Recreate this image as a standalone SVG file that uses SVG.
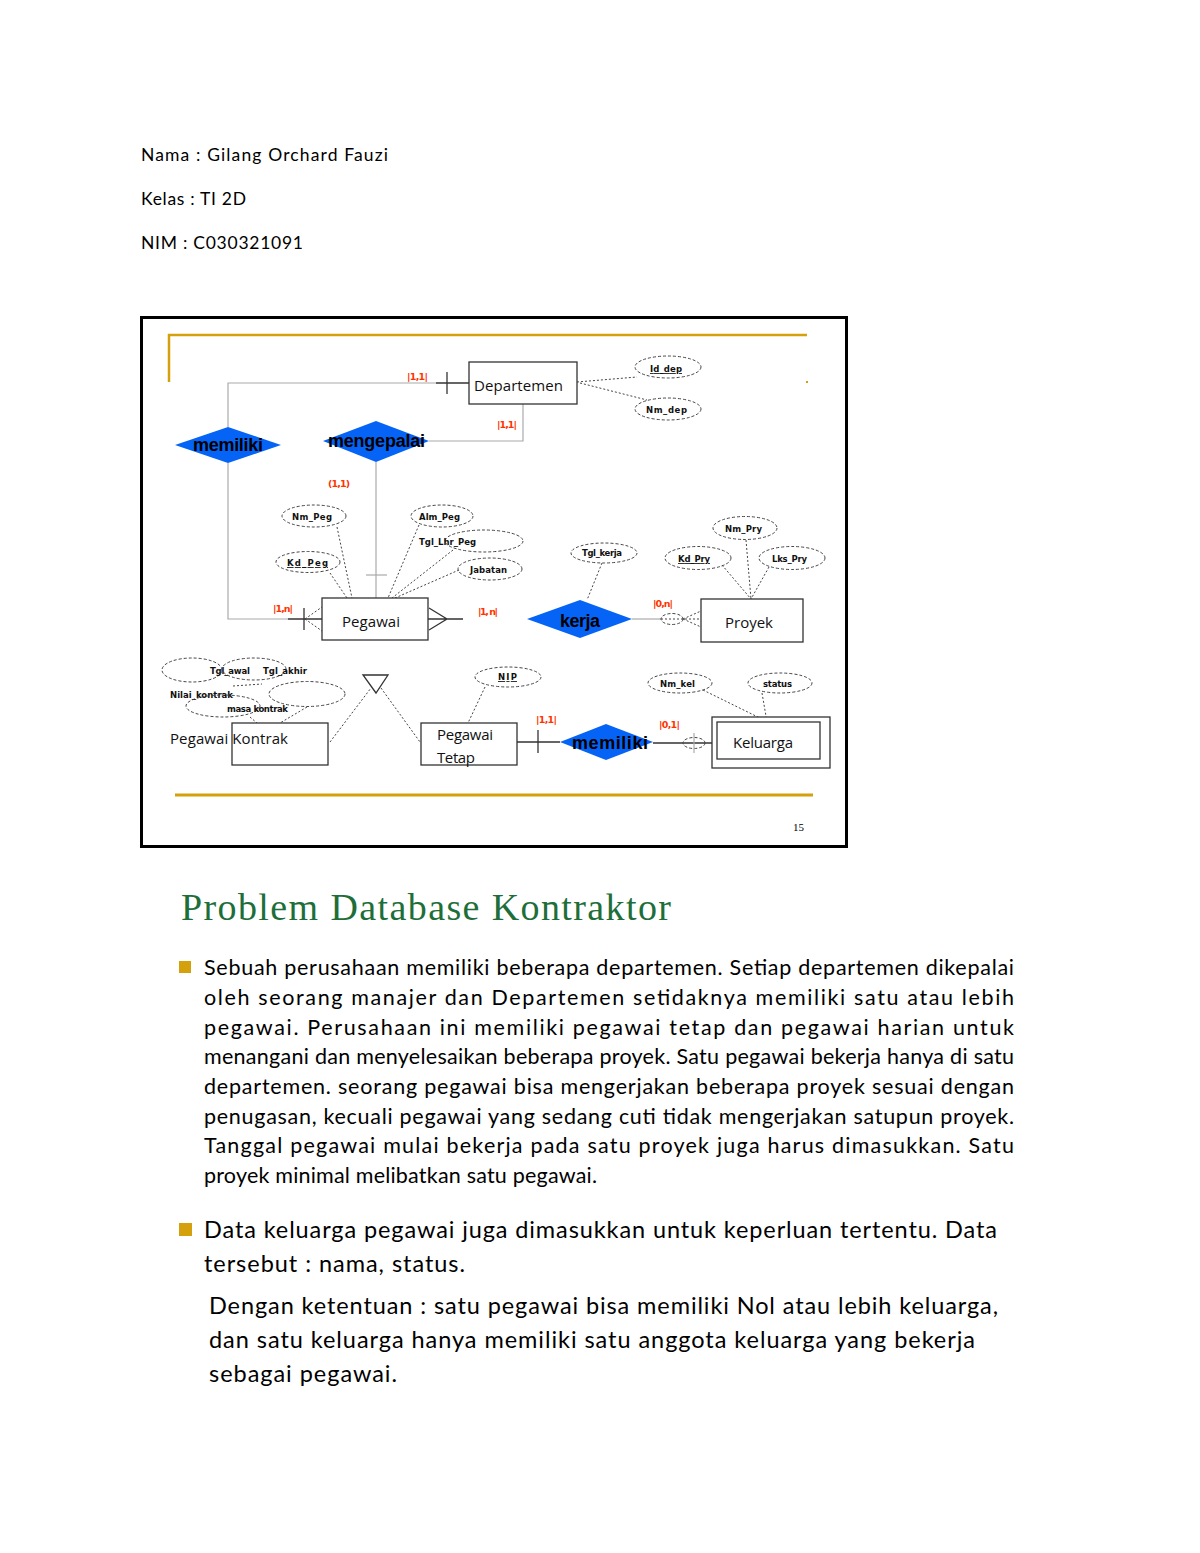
<svg xmlns="http://www.w3.org/2000/svg" width="1200" height="1553" viewBox="0 0 1200 1553">
<style>
.ent{fill:#fff;stroke:#333;stroke-width:1.3}
.rel{fill:#0563F5}
.attr{fill:none;stroke:#444;stroke-width:1;stroke-dasharray:3 2}
.lbl{font-family:"Open Sans","DejaVu Sans",sans-serif;font-size:15px;fill:#111}
.rtxt{font-family:"Liberation Sans",Arial,sans-serif;font-weight:bold;font-size:18px;fill:#000}
.atxt{font-family:"DejaVu Sans",sans-serif;font-size:8.5px;font-weight:bold;fill:#111}
.card{font-family:"DejaVu Sans",sans-serif;font-size:9.5px;font-weight:bold;fill:#FF3300}
.gray{stroke:#aaa;stroke-width:1.2;fill:none}
.dark{stroke:#333;stroke-width:1.3;fill:none}
.dash{stroke:#444;stroke-width:1;stroke-dasharray:2 2;fill:none}
.gold{stroke:#D4A00C;fill:none}
.body{font-family:Lato,"Open Sans",sans-serif;fill:#000}
</style>
<rect width="1200" height="1553" fill="#fff"/>
<g id="header" class="body" font-size="17.5">
<text x="141" y="161" textLength="247">Nama : Gilang Orchard Fauzi</text>
<text x="141" y="205" textLength="105">Kelas : TI 2D</text>
<text x="141" y="249" textLength="162">NIM : C030321091</text>
</g>
<g id="frame">
<rect x="141.5" y="317.5" width="705" height="529" fill="none" stroke="#000" stroke-width="3"/>
<polyline class="gold" stroke-width="2.5" points="169,382 169,335 807,335"/>
<line class="gold" stroke-width="3" x1="175" y1="795" x2="813" y2="795"/>
<rect x="806" y="381" width="2" height="2" fill="#D4A00C"/>
<text x="793" y="831" font-family="Liberation Serif,serif" font-size="11" fill="#000">15</text>
</g>
<g id="connectors">
<polyline class="gray" points="436,383 228,383 228,427"/>
<line class="dark" x1="436" y1="383" x2="469" y2="383"/>
<line class="dark" x1="447" y1="372" x2="447" y2="394"/>
<polyline class="gray" points="523,404 523,441 429,441"/>
<line class="gray" x1="376" y1="462" x2="376" y2="598"/>
<line class="gray" x1="366" y1="575" x2="387" y2="575"/>
<polyline class="gray" points="228,463 228,619 288,619"/>
<line class="dark" x1="288" y1="619" x2="322" y2="619"/>
<line class="dark" x1="304" y1="608" x2="304" y2="630"/>
<path class="dash" d="M305,619 L322,607 M305,619 L322,631"/>
<path class="dark" d="M429,608 L447,619 L429,630 M428,619 L463,619"/>
<line class="gray" stroke="#888" x1="632" y1="619" x2="661" y2="619"/>
<ellipse class="attr" cx="672" cy="619" rx="11" ry="5.5"/>
<path class="dash" d="M683,619 L701,611 M683,619 L701,627 M661,619 L701,619"/>
<path class="dash" d="M577,382 L637,377 M580,383 L647,400"/>
<path class="dash" d="M337,527 L352,598 M330,573 L347,598 M419,525 L388,598 M453,550 L392,598 M459,570 L395,598"/>
<path class="dash" d="M602,563 L587,600"/>
<path class="dash" d="M722,565 L751,599 M746,540 L751,599 M769,567 L751,599"/>
<polygon class="dark" stroke-width="1" points="363,675 388,675 376,693"/>
<path class="dash" stroke="#666" d="M330,742 L371,688 M381,688 L420,742"/>
<path class="dash" d="M485,687 L468,723"/>
<path class="dash" d="M307,707 L280,723 M250,717 L257,723 M233,686 L262,684"/>
<line class="dark" stroke="#111" x1="517" y1="742" x2="560" y2="742"/>
<line class="dark" x1="538" y1="730" x2="538" y2="753"/>
<line class="dark" stroke="#555" x1="653" y1="743" x2="712" y2="743"/>
<ellipse class="attr" fill="#fff" cx="694" cy="743" rx="11" ry="5.5"/>
<line class="gray" x1="694" y1="733" x2="694" y2="753"/>
<path class="dash" d="M703,690 L768,722 M762,693 L767,722"/>
</g>
<g id="Departemen"><rect class="ent" x="469" y="362" width="108" height="42"/><text class="lbl" x="474" y="391" textLength="89">Departemen</text></g>
<g id="Pegawai"><rect class="ent" x="322" y="598" width="106" height="42"/><text class="lbl" x="342" y="627" textLength="58">Pegawai</text></g>
<g id="Proyek"><rect class="ent" x="701" y="599" width="102" height="43"/><text class="lbl" x="725" y="628" textLength="48">Proyek</text></g>
<g id="PegawaiKontrak"><rect class="ent" x="232" y="723" width="96" height="42"/><text class="lbl" x="170" y="744" textLength="118">Pegawai Kontrak</text></g>
<g id="PegawaiTetap"><rect class="ent" x="421" y="723" width="96" height="42"/><text class="lbl" x="437" y="740" textLength="56">Pegawai</text><text class="lbl" x="437" y="763" textLength="38">Tetap</text></g>
<g id="Keluarga"><rect class="ent" x="712" y="717" width="118" height="51"/><rect class="ent" x="717" y="722" width="103" height="37"/><text class="lbl" x="733" y="748" textLength="60">Keluarga</text></g>
<g id="memiliki1"><polygon class="rel" points="175,445 228,427 281,445 228,463"/><text class="rtxt" x="193" y="451" textLength="70">memiliki</text></g>
<g id="mengepalai"><polygon class="rel" points="323,441 376,421 429,441 376,462"/><text class="rtxt" x="328" y="447" textLength="97">mengepalai</text></g>
<g id="kerja"><polygon class="rel" points="527,619 580,600 632,619 580,638"/><text class="rtxt" font-size="19" x="560" y="627" textLength="40">kerja</text></g>
<g id="memiliki2"><polygon class="rel" points="560,742 606,724 653,742 606,760"/><text class="rtxt" font-size="19" x="572" y="749" textLength="76">memiliki</text></g>
<g id="Id_dep"><ellipse class="attr" cx="668" cy="367" rx="33" ry="11"/><text class="atxt" x="650" y="372" textLength="32" text-decoration="underline">Id_dep</text></g>
<g id="Nm_dep"><ellipse class="attr" cx="668" cy="409" rx="33" ry="11"/><text class="atxt" x="646" y="413" textLength="41">Nm_dep</text></g>
<g id="Nm_Peg"><ellipse class="attr" cx="314" cy="516" rx="32" ry="11"/><text class="atxt" x="292" y="520" textLength="40">Nm_Peg</text></g>
<g id="Kd_Peg"><ellipse class="attr" cx="308" cy="562" rx="32" ry="10.5"/><text class="atxt" x="287" y="566" textLength="41" text-decoration="underline">Kd_Peg</text></g>
<g id="Alm_Peg"><ellipse class="attr" cx="442" cy="516" rx="31" ry="11"/><text class="atxt" x="419" y="520" textLength="41">Alm_Peg</text></g>
<g id="Tgl_Lhr_Peg"><ellipse class="attr" cx="484" cy="541" rx="39" ry="11"/><text class="atxt" x="419" y="545" textLength="57">Tgl_Lhr_Peg</text></g>
<g id="Jabatan"><ellipse class="attr" cx="490" cy="569" rx="32" ry="11"/><text class="atxt" x="470" y="573" textLength="37">Jabatan</text></g>
<g id="Tgl_kerja"><ellipse class="attr" cx="604" cy="553" rx="33" ry="10"/><text class="atxt" x="582" y="556" textLength="40">Tgl_kerja</text></g>
<g id="Nm_Pry"><ellipse class="attr" cx="745" cy="528" rx="32" ry="11.5"/><text class="atxt" x="725" y="532" textLength="37">Nm_Pry</text></g>
<g id="Kd_Pry"><ellipse class="attr" cx="698" cy="558" rx="33" ry="11.5"/><text class="atxt" x="678" y="562" textLength="32" text-decoration="underline">Kd_Pry</text></g>
<g id="Lks_Pry"><ellipse class="attr" cx="792" cy="558" rx="33" ry="11.5"/><text class="atxt" x="772" y="562" textLength="35">Lks_Pry</text></g>
<g id="NIP"><ellipse class="attr" cx="508" cy="677" rx="33" ry="10"/><text class="atxt" x="498" y="680" textLength="19" text-decoration="underline">NIP</text></g>
<g id="Nm_kel"><ellipse class="attr" cx="680" cy="683" rx="32" ry="10"/><text class="atxt" x="660" y="687" textLength="35">Nm_kel</text></g>
<g id="status"><ellipse class="attr" cx="780" cy="683" rx="32" ry="10"/><text class="atxt" x="763" y="687" textLength="29">status</text></g>
<g id="Tgl_awal"><ellipse class="attr" cx="192" cy="670" rx="30" ry="12"/><text class="atxt" x="210" y="674" textLength="40">Tgl_awal</text></g>
<g id="Tgl_akhir"><ellipse class="attr" cx="254" cy="669" rx="32" ry="11"/><text class="atxt" x="263" y="674" textLength="44">Tgl_akhir</text></g>
<g id="Nilai_kontrak"><ellipse class="attr" cx="307" cy="694" rx="38" ry="12.5"/><text class="atxt" x="170" y="698" textLength="63">Nilai_kontrak</text></g>
<g id="masa_kontrak"><ellipse class="attr" cx="223" cy="706" rx="37" ry="11"/><text class="atxt" x="227" y="712" textLength="61">masa kontrak</text></g>
<g id="cardinalities" class="card">
<text x="407" y="380" textLength="21">|1,1|</text>
<text x="497" y="428" textLength="20">|1,1|</text>
<text x="328" y="487" textLength="22">(1,1)</text>
<text x="273" y="612" textLength="20">|1,n|</text>
<text x="478" y="615" textLength="20">|1, n|</text>
<text x="653" y="607" textLength="20">|0,n|</text>
<text x="536" y="723" textLength="21">|1,1|</text>
<text x="659" y="728" textLength="21">|0,1|</text>
</g>
<g id="problem">
<text x="181" y="920" font-family="Liberation Serif,serif" font-size="38" fill="#1E6E3A" textLength="490">Problem Database Kontraktor</text>
<rect x="179" y="961" width="12" height="12" fill="#D4A00C"/>
<g class="body" font-size="21.5">
<text x="204" y="975" textLength="810">Sebuah perusahaan memiliki beberapa departemen. Setiap departemen dikepalai</text>
<text x="204" y="1005" textLength="810">oleh seorang manajer dan Departemen setidaknya memiliki satu atau  lebih</text>
<text x="204" y="1035" textLength="810">pegawai. Perusahaan ini memiliki pegawai tetap dan pegawai harian untuk</text>
<text x="204" y="1064" textLength="810">menangani dan menyelesaikan beberapa proyek. Satu pegawai bekerja hanya di satu</text>
<text x="204" y="1094" textLength="810">departemen. seorang pegawai bisa mengerjakan beberapa proyek sesuai dengan</text>
<text x="204" y="1124" textLength="810">penugasan, kecuali pegawai yang sedang cuti tidak mengerjakan satupun  proyek.</text>
<text x="204" y="1153" textLength="810">Tanggal pegawai mulai bekerja pada  satu proyek juga harus dimasukkan. Satu</text>
<text x="204" y="1183" textLength="393">proyek minimal melibatkan satu pegawai.</text>
</g>
<rect x="179" y="1223" width="13" height="13" fill="#D4A00C"/>
<g class="body" font-size="23.5">
<text x="204" y="1238" textLength="793">Data keluarga pegawai juga dimasukkan untuk keperluan tertentu. Data</text>
<text x="204" y="1272" textLength="261">tersebut : nama, status.</text>
<text x="209" y="1314" textLength="789">Dengan ketentuan : satu pegawai bisa memiliki Nol atau lebih keluarga,</text>
<text x="209" y="1348" textLength="766">dan satu keluarga hanya memiliki satu anggota keluarga yang bekerja</text>
<text x="209" y="1382" textLength="188">sebagai pegawai.</text>
</g>
</g>
</svg>
